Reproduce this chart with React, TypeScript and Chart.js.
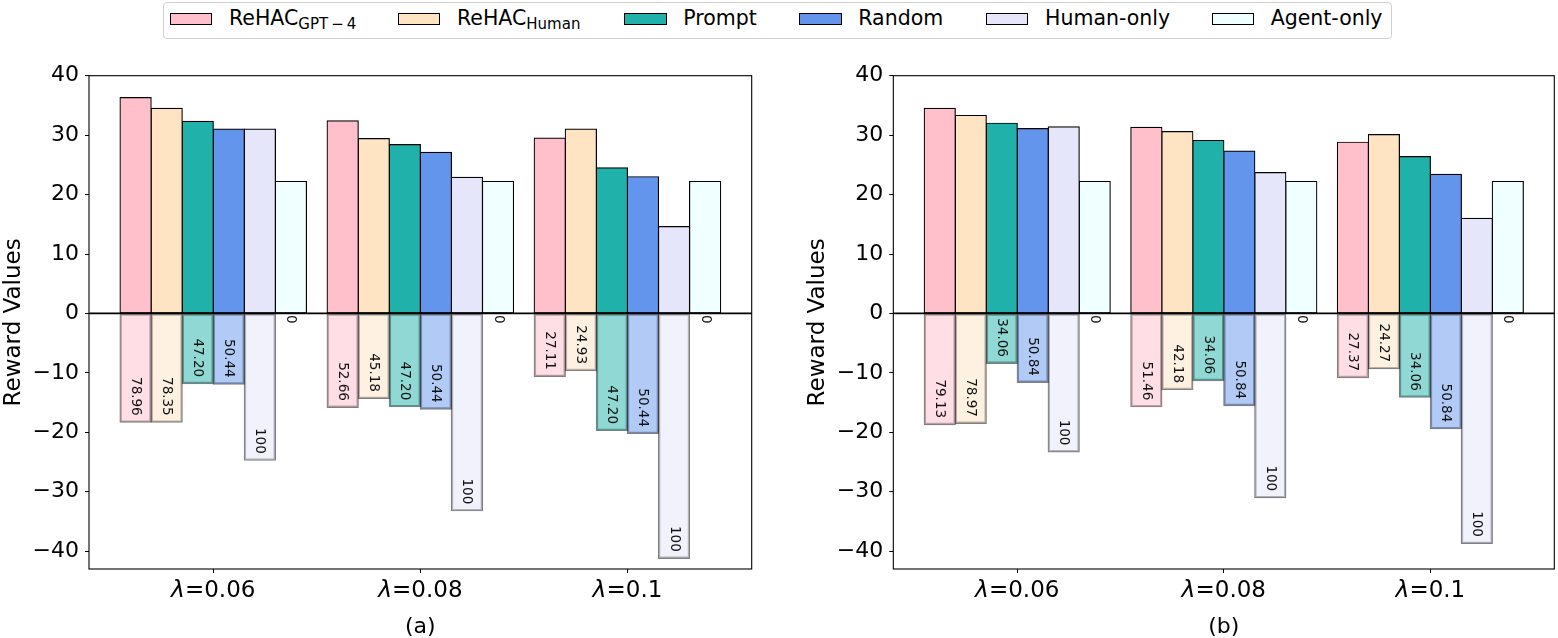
import React, { useEffect, useRef } from 'react';
import { Chart, registerables } from 'chart.js';

Chart.register(...registerables);

const FONT = '"DejaVu Sans", "Liberation Sans", sans-serif';
Chart.defaults.font.family = FONT;

// ---------- data ----------
const lambdaValues = ['0.06', '0.08', '0.1'];
const methodNames = ['ReHAC', 'ReHAC', 'Prompt', 'Random', 'Human-only', 'Agent-only'];
const methodSubs = ['GPT\u2009\u2212\u20094', 'Human', '', '', '', ''];
const methodColors = ['#FFC0CB', '#FFE4C4', '#20B2AA', '#6495ED', '#E6E6FA', '#F0FFFF'];
const yTickValues = [-40, -30, -20, -10, 0, 10, 20, 30, 40];

// Panel (a) rewards
const aRewardGpt4 = [36.3, 32.4, 29.5];
const aRewardHuman = [34.5, 29.4, 31.0];
const aRewardPrompt = [32.3, 28.4, 24.5];
const aRewardRandom = [31.0, 27.1, 23.0];
const aRewardHumanOnly = [31.0, 22.9, 14.6];
const aRewardAgentOnly = [22.2, 22.2, 22.2];
// Panel (a) costs (negative bars)
const aCostGpt4 = [-18.3, -15.8, -10.6];
const aCostHuman = [-18.3, -14.3, -9.6];
const aCostPrompt = [-11.8, -15.7, -19.7];
const aCostRandom = [-11.9, -16.1, -20.2];
const aCostHumanOnly = [-24.7, -33.2, -41.2];
const aCostAgentOnly = [0, 0, 0];
// Panel (a) cost labels
const aLabelGpt4 = ['78.96', '52.66', '27.11'];
const aLabelHuman = ['78.35', '45.18', '24.93'];
const aLabelPrompt = ['47.20', '47.20', '47.20'];
const aLabelRandom = ['50.44', '50.44', '50.44'];
const aLabelHumanOnly = ['100', '100', '100'];
const aLabelAgentOnly = ['0', '0', '0'];

// Panel (b) rewards
const bRewardGpt4 = [34.5, 31.3, 28.8];
const bRewardHuman = [33.3, 30.6, 30.1];
const bRewardPrompt = [32.0, 29.1, 26.4];
const bRewardRandom = [31.1, 27.3, 23.4];
const bRewardHumanOnly = [31.4, 23.7, 16.0];
const bRewardAgentOnly = [22.2, 22.2, 22.2];
// Panel (b) costs
const bCostGpt4 = [-18.7, -15.7, -10.8];
const bCostHuman = [-18.5, -12.8, -9.3];
const bCostPrompt = [-8.4, -11.3, -14.1];
const bCostRandom = [-11.6, -15.5, -19.4];
const bCostHumanOnly = [-23.3, -31.0, -38.7];
const bCostAgentOnly = [0, 0, 0];
// Panel (b) cost labels
const bLabelGpt4 = ['79.13', '51.46', '27.37'];
const bLabelHuman = ['78.97', '42.18', '24.27'];
const bLabelPrompt = ['34.06', '34.06', '34.06'];
const bLabelRandom = ['50.84', '50.84', '50.84'];
const bLabelHumanOnly = ['100', '100', '100'];
const bLabelAgentOnly = ['0', '0', '0'];

// ---------- helpers ----------
function withAlpha(hex: string, a: number) {
  const n = parseInt(hex.slice(1), 16);
  return `rgba(${(n >> 16) & 255},${(n >> 8) & 255},${n & 255},${a})`;
}

type PanelProps = {
  rewards: number[][];
  costs: number[][];
  labels: string[][];
  caption: string;
  left: number;
  yAxisWidth: number;
  padRight: number;
};

function makeOverlay(caption: string, costs: number[][], labels: string[][]) {
  return {
    id: 'overlay',
    afterDatasetsDraw(chart: any) {
      const { ctx, chartArea: ca, scales } = chart;
      const x = scales.x;
      const y = scales.y;
      const y0 = y.getPixelForValue(0);
      ctx.save();
      // zero line
      ctx.strokeStyle = '#000';
      ctx.lineWidth = 1.8;
      ctx.beginPath();
      ctx.moveTo(ca.left, y0);
      ctx.lineTo(ca.right, y0);
      ctx.stroke();
      // frame
      ctx.lineWidth = 1.1;
      ctx.strokeRect(ca.left, ca.top, ca.right - ca.left, ca.bottom - ca.top);

      // labels on negative bars
      ctx.fillStyle = '#111';
      ctx.font = `13.5px ${FONT}`;
      ctx.textBaseline = 'middle';
      const n = costs.length;
      for (let m = 0; m < n; m++) {
        const meta = chart.getDatasetMeta(n + m);
        meta.data.forEach((bar: any, i: number) => {
          const v = costs[m][i];
          ctx.save();
          if (v < 0) {
            ctx.translate(bar.x, y.getPixelForValue(v) - 6.5);
            ctx.rotate(Math.PI / 2);
            ctx.textAlign = 'right';
          } else {
            ctx.translate(bar.x, y0 + 1.5);
            ctx.rotate(Math.PI / 2);
            ctx.textAlign = 'left';
          }
          ctx.fillText(labels[m][i], 0, 0);
          ctx.restore();
        });
      }

      // x category labels with italic lambda
      ctx.fillStyle = '#000';
      ctx.textBaseline = 'alphabetic';
      ctx.textAlign = 'left';
      const italic = `italic 23.5px ${FONT}`;
      const normal = `23px ${FONT}`;
      lambdaValues.forEach((lv, i) => {
        const cx = x.getPixelForValue(i);
        ctx.font = italic;
        const w1 = ctx.measureText('\u03BB').width;
        ctx.font = normal;
        const rest = '=' + lv;
        const w2 = ctx.measureText(rest).width;
        const start = cx - (w1 + w2) / 2;
        const by = ca.bottom + 27.5;
        ctx.font = italic;
        ctx.fillText('\u03BB', start, by);
        ctx.font = normal;
        ctx.fillText(rest, start + w1, by);
      });

      // caption
      ctx.textAlign = 'center';
      ctx.font = `22px ${FONT}`;
      ctx.fillText(caption, (ca.left + ca.right) / 2, ca.bottom + 64);

      // y title
      ctx.save();
      ctx.translate(ca.left - 78 + 8.5, (ca.top + ca.bottom) / 2);
      ctx.rotate(-Math.PI / 2);
      ctx.textAlign = 'center';
      ctx.textBaseline = 'alphabetic';
      ctx.font = `23px ${FONT}`;
      ctx.fillText('Reward Values', 0, 0);
      ctx.restore();

      ctx.restore();
    },
  };
}

function Panel({ rewards, costs, labels, caption, left, yAxisWidth, padRight }: PanelProps) {
  const ref = useRef<HTMLCanvasElement | null>(null);
  useEffect(() => {
    if (!ref.current) return;
    const common = {
      borderSkipped: false,
      inflateAmount: 0.6,
      categoryPercentage: 0.9,
      barPercentage: 1.0,
    };
    const datasets: any[] = [
      ...rewards.map((vals, m) => ({
        label: methodNames[m] + methodSubs[m],
        data: vals.map((v, i) => ({ x: i, y: v })),
        backgroundColor: methodColors[m],
        borderColor: '#000',
        borderWidth: 1.2,
        stack: 's' + m,
        ...common,
      })),
      ...costs.map((vals, m) => ({
        label: methodNames[m] + methodSubs[m] + ' cost',
        data: vals.map((v, i) => ({ x: i, y: v })),
        backgroundColor: withAlpha(methodColors[m], 0.5),
        borderColor: 'rgba(0,0,0,0.5)',
        borderWidth: 1.2,
        stack: 's' + m,
        ...common,
      })),
    ];
    const gridOpts = {
      display: true,
      drawOnChartArea: false,
      drawTicks: true,
      tickLength: 4,
      color: '#000',
      lineWidth: 1,
      offset: false,
    };
    const chart = new Chart(ref.current, {
      type: 'bar',
      data: { datasets },
      options: {
        animation: false,
        responsive: true,
        maintainAspectRatio: false,
        events: [],
        layout: { padding: { top: 75.7, right: padRight, bottom: 0, left: 0 } },
        plugins: {
          legend: { display: false },
          tooltip: { enabled: false },
          title: { display: false },
        },
        scales: {
          x: {
            type: 'linear',
            min: -0.6,
            max: 2.6,
            offset: false,
            grid: gridOpts,
            border: { display: false },
            ticks: { color: 'rgba(0,0,0,0)', font: { size: 21 } },
            afterBuildTicks: (s: any) => {
              s.ticks = lambdaValues.map((_, i) => ({ value: i }));
            },
            afterFit: (s: any) => {
              s.height = 69;
              s.paddingLeft = 0;
              s.paddingRight = 0;
            },
          },
          y: {
            type: 'linear',
            min: -43,
            max: 40,
            stacked: true,
            grid: gridOpts,
            border: { display: false },
            ticks: {
              color: '#000',
              font: { size: 22, family: FONT },
              padding: 6,
              stepSize: 10,
              callback: (v: any) => (v < 0 ? '\u2212' + Math.abs(v) : String(v)),
            },
            afterBuildTicks: (s: any) => {
              s.ticks = yTickValues.map((v) => ({ value: v }));
            },
            afterFit: (s: any) => {
              s.width = yAxisWidth;
              s.paddingTop = 0;
              s.paddingBottom = 0;
            },
          },
        },
      } as any,
      plugins: [makeOverlay(caption, costs, labels)],
    });
    return () => chart.destroy();
  }, []);
  return (
    <div style={{ position: 'absolute', left, top: 0, width: 779, height: 638 }}>
      <canvas ref={ref} />
    </div>
  );
}

const legendLefts = [170, 398, 624.3, 799.3, 986, 1211.7];

function Legend() {
  return (
    <>
      <div
        style={{
          position: 'absolute',
          left: 163,
          top: 2,
          width: 1229,
          height: 36.5,
          boxSizing: 'border-box',
          border: '1px solid #d0d0d0',
          borderRadius: 4,
          background: '#fff',
        }}
      />
      {methodNames.map((name, m) => (
        <React.Fragment key={m}>
          <div
            style={{
              position: 'absolute',
              left: legendLefts[m],
              top: 12.7,
              width: 42.3,
              height: 12.6,
              boxSizing: 'border-box',
              border: '1.3px solid #000',
              background: methodColors[m],
            }}
          />
          <div
            style={{
              position: 'absolute',
              left: legendLefts[m] + 59,
              top: 7.7,
              fontFamily: FONT,
              fontSize: 20.5,
              lineHeight: 1,
              whiteSpace: 'nowrap',
              color: '#000',
            }}
          >
            {name}
            {methodSubs[m] ? (
              <span style={{ fontSize: 15, position: 'relative', top: 4.5 }}>{methodSubs[m]}</span>
            ) : null}
          </div>
        </React.Fragment>
      ))}
    </>
  );
}

export default function App() {
  return (
    <div
      style={{
        position: 'fixed',
        left: 0,
        top: 0,
        width: 1558,
        height: 638,
        background: '#fff',
        overflow: 'hidden',
      }}
    >
      <Panel
        rewards={[aRewardGpt4, aRewardHuman, aRewardPrompt, aRewardRandom, aRewardHumanOnly, aRewardAgentOnly]}
        costs={[aCostGpt4, aCostHuman, aCostPrompt, aCostRandom, aCostHumanOnly, aCostAgentOnly]}
        labels={[aLabelGpt4, aLabelHuman, aLabelPrompt, aLabelRandom, aLabelHumanOnly, aLabelAgentOnly]}
        caption="(a)"
        left={0}
        yAxisWidth={89}
        padRight={27.3}
      />
      <Panel
        rewards={[bRewardGpt4, bRewardHuman, bRewardPrompt, bRewardRandom, bRewardHumanOnly, bRewardAgentOnly]}
        costs={[bCostGpt4, bCostHuman, bCostPrompt, bCostRandom, bCostHumanOnly, bCostAgentOnly]}
        labels={[bLabelGpt4, bLabelHuman, bLabelPrompt, bLabelRandom, bLabelHumanOnly, bLabelAgentOnly]}
        caption="(b)"
        left={779}
        yAxisWidth={114.3}
        padRight={3.7}
      />
      <Legend />
    </div>
  );
}
